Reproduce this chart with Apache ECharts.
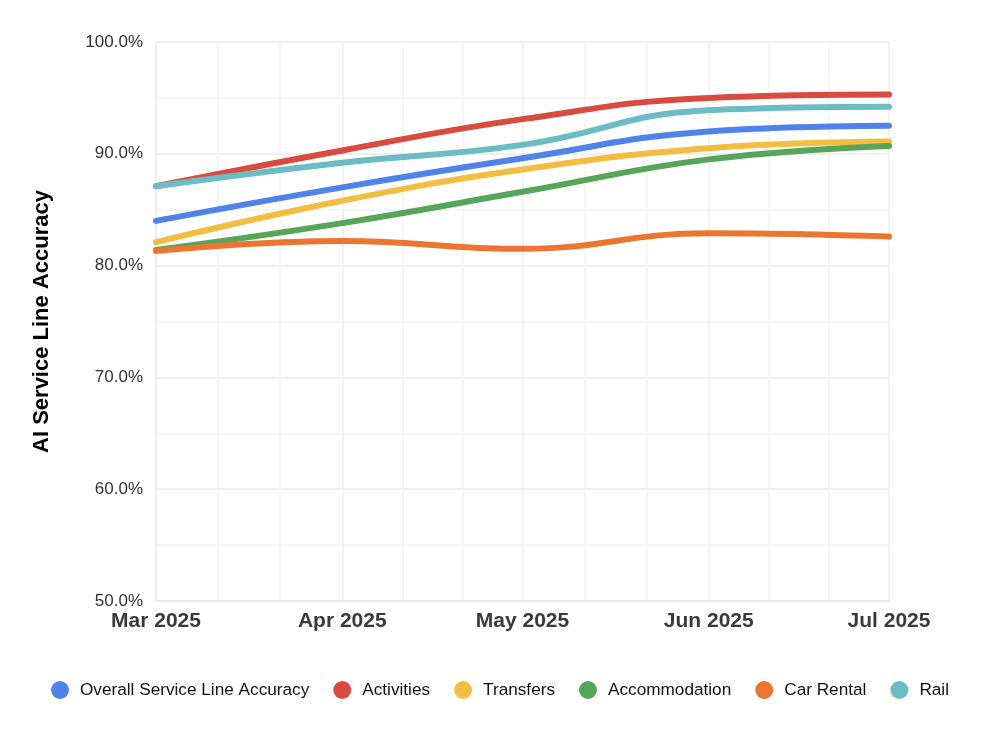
<!DOCTYPE html>
<html>
<head>
<meta charset="utf-8">
<script src="https://cdn.jsdelivr.net/npm/echarts@6/dist/echarts.min.js"></script>
<style>
  html, body { margin: 0; padding: 0; background: #fff; }
  #chart { width: 1000px; height: 741px; }
</style>
</head>
<body>
<div id="chart"></div>
<script>
const months = ['2025-03-01', '2025-04-01', '2025-05-01', '2025-06-01', '2025-07-01'];
const overall = [84.0, 87.0, 89.6, 92.0, 92.5];
const activities = [87.1, 90.3, 93.1, 95.0, 95.3];
const transfers = [82.1, 85.8, 88.6, 90.5, 91.1];
const accommodation = [81.4, 83.8, 86.6, 89.5, 90.7];
const carRental = [81.3, 82.2, 81.5, 82.9, 82.6];
const rail = [87.1, 89.2, 90.8, 93.9, 94.2];

const seriesNames = ['Overall Service Line Accuracy', 'Activities', 'Transfers', 'Accommodation', 'Car Rental', 'Rail'];
const seriesData = [overall, activities, transfers, accommodation, carRental, rail];
const colors = ['#4f82ea', '#d84b3e', '#f2be42', '#56a65a', '#ec7530', '#6bbcc4'];

const chart = echarts.init(document.getElementById('chart'));
chart.setOption({
  animation: false,
  color: colors,
  grid: { left: 156, right: 111, top: 42, bottom: 140, containLabel: false },
  legend: {
    bottom: 37,
    left: 'center',
    icon: 'circle',
    itemWidth: 18,
    itemHeight: 18,
    itemGap: 24,
    textStyle: { fontFamily: 'Liberation Sans, Arial', fontSize: 17.2, color: '#111', padding: [0, 0, 0, 6] },
    data: seriesNames
  },
  xAxis: {
    type: 'time',
    min: new Date(months[0]).getTime(),
    max: new Date(months[months.length - 1]).getTime(),
    minInterval: 28 * 86400000,
    splitNumber: 4,
    axisLine: { show: true, lineStyle: { color: '#eaeaea', width: 2 } },
    axisTick: { show: false },
    axisLabel: {
      formatter: '{MMM} {yyyy}',
      fontFamily: 'Liberation Sans, Arial',
      fontSize: 21,
      fontWeight: 'bold',
      color: '#3a3a3a',
      margin: 10,
      showMinLabel: true,
      showMaxLabel: true,
      hideOverlap: false
    },
    splitLine: { show: true, lineStyle: { color: '#ececec', width: 1.5 } },
    minorTick: { show: false, splitNumber: 3 },
    minorSplitLine: { show: true, lineStyle: { color: '#f3f3f3', width: 1.5 } }
  },
  yAxis: {
    type: 'value',
    min: 50,
    max: 100,
    interval: 10,
    name: 'AI Service Line Accuracy',
    nameLocation: 'middle',
    nameGap: 103,
    nameTextStyle: { fontFamily: 'Liberation Sans, Arial', fontSize: 22, fontWeight: 'bold', color: '#000' },
    axisLine: { show: false },
    axisTick: { show: false },
    axisLabel: {
      formatter: v => v.toFixed(1) + '%',
      fontFamily: 'Liberation Sans, Arial',
      fontSize: 17,
      color: '#333',
      margin: 13
    },
    splitLine: { show: true, lineStyle: { color: '#ebebeb', width: 1.5 } },
    minorTick: { show: false, splitNumber: 2 },
    minorSplitLine: { show: true, lineStyle: { color: '#f3f3f3', width: 1.5 } }
  },
  series: seriesNames.map((name, i) => ({
    name: name,
    type: 'line',
    smooth: 0.45,
    showSymbol: false,
    symbol: 'circle',
    lineStyle: { width: 6, cap: 'round' },
    data: months.map((m, j) => [m, seriesData[i][j]])
  }))
});
</script>
</body>
</html>
